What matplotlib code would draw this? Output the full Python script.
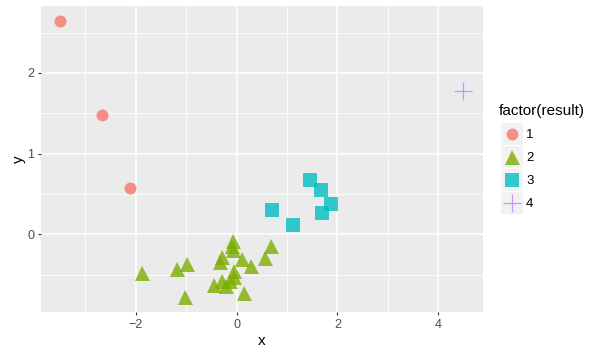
import matplotlib
matplotlib.use("Agg")
import matplotlib.pyplot as plt
from matplotlib.patches import Rectangle
from matplotlib.ticker import MultipleLocator

plt.rcParams['font.family'] = ['Liberation Sans', 'DejaVu Sans']

# cluster 1
x1 = [-3.50, -2.67, -2.11]
y1 = [2.645, 1.479, 0.578]
# cluster 2
x2 = [-1.87, -1.175, -0.976, -1.016, -0.45, -0.208, -0.288, -0.079, -0.095, -0.069,
      -0.294, -0.327, 0.115, 0.288, -0.044, -0.044, -0.129, 0.149, 0.565, 0.684]
y2 = [-0.48, -0.43, -0.37, -0.78, -0.63, -0.635, -0.58, -0.078, -0.145, -0.195,
      -0.278, -0.347, -0.307, -0.394, -0.455, -0.53, -0.58, -0.73, -0.29, -0.141]
# cluster 3
x3 = [1.458, 1.677, 1.875, 1.696, 0.710, 1.121]
y3 = [0.673, 0.546, 0.372, 0.260, 0.298, 0.115]
# cluster 4
x4 = [4.49]
y4 = [1.777]

labels = ['1', '2', '3', '4']
colors = ['#F8766D', '#7CAE00', '#00BFC4', '#C77CFF']
markers = ['o', '^', 's', '+']
sizes = [8.6, 10.8, 9.4, 13]

fig = plt.figure(figsize=(6.08, 3.57), dpi=100)
ax = fig.add_axes([41/608, 1-312/357, (483-41)/608, (312-6)/357])
ax.set_facecolor('#EBEBEB')
for s in ax.spines.values():
    s.set_visible(False)

series = [(x1, y1), (x2, y2), (x3, y3), (x4, y4)]
for (xs, ys), c, m, ms in zip(series, colors, markers, sizes):
    mw = 0.9 if m == '+' else 0
    ax.plot(xs, ys, linestyle='none', marker=m, markersize=ms, color=c,
            alpha=0.8, markeredgewidth=mw, zorder=3)

ax.set_xlim(-3.88, 4.89)
ax.set_ylim(-0.963, 2.83)
ax.xaxis.set_major_locator(MultipleLocator(2))
ax.xaxis.set_minor_locator(MultipleLocator(1))
ax.yaxis.set_major_locator(MultipleLocator(1))
ax.yaxis.set_minor_locator(MultipleLocator(0.5))
ax.grid(which='major', color='white', linewidth=1.1)
ax.grid(which='minor', color='white', linewidth=0.55)
ax.set_axisbelow(True)
ax.tick_params(which='major', length=2.5, width=0.8, color='#333333',
               labelcolor='#4D4D4D', labelsize=9, pad=2.5)
ax.tick_params(which='minor', length=0)
ax.set_xlabel('x', fontsize=11, color='black', labelpad=2)
ax.set_ylabel('y', fontsize=11, color='black', labelpad=1)

# legend drawn in pixel coordinates
lax = fig.add_axes([0, 0, 1, 1])
lax.set_xlim(0, 608)
lax.set_ylim(357, 0)
lax.axis('off')
lax.text(499, 111.5, 'factor(result)', fontsize=11, va='center', ha='left')
for i, (c, m, ms, lab) in enumerate(zip(colors, markers, sizes, labels)):
    cy = 134 + 23 * i
    lax.add_patch(Rectangle((501, cy - 11), 22, 22, facecolor='#F2F2F2', edgecolor='none'))
    mw = 0.9 if m == '+' else 0
    lax.plot([512], [cy], linestyle='none', marker=m, markersize=ms, color=c,
             alpha=0.8, markeredgewidth=mw)
    lax.text(526, cy + 1, lab, fontsize=9.5, va='center', ha='left')

fig.savefig('out.png', dpi=100)
